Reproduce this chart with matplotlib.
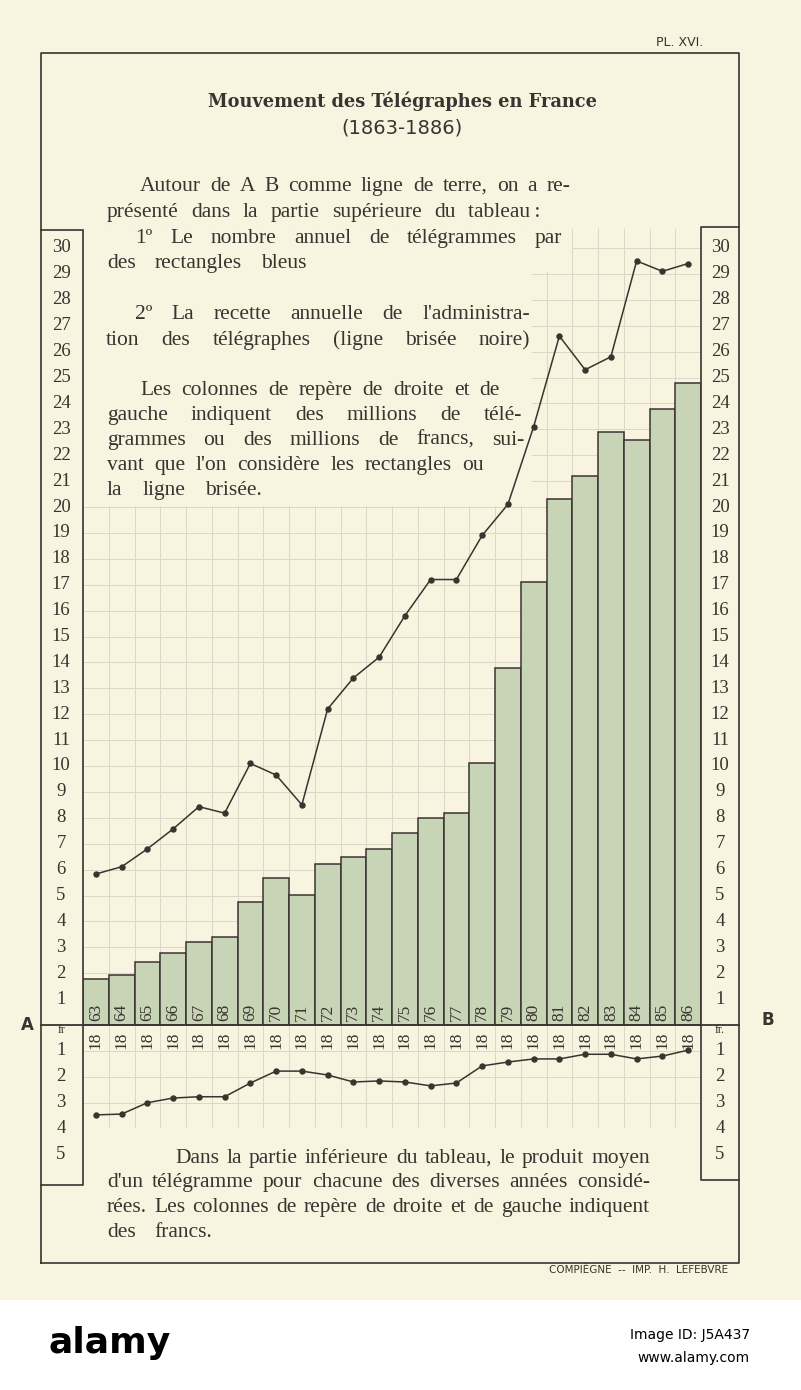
import matplotlib
matplotlib.use("Agg")
import matplotlib.pyplot as plt
import matplotlib.transforms as mtransforms
from matplotlib.patches import Polygon, Rectangle
from matplotlib.lines import Line2D

# --- data (millions / francs) ---
years = list(range(1863, 1887))
telegrammes = [1.78, 1.93, 2.43, 2.79, 3.2, 3.41, 4.75, 5.68, 5.02, 6.2, 6.5, 6.8,
               7.4, 8.0, 8.2, 10.1, 13.8, 17.1, 20.3, 21.2, 22.9, 22.6, 23.8, 24.8]
recette = [5.83, 6.11, 6.8, 7.57, 8.43, 8.18, 10.1, 9.65, 8.5, 12.2, 13.4, 14.2,
           15.8, 17.2, 17.2, 18.9, 20.1, 23.1, 26.6, 25.3, 25.8, 29.5, 29.1, 29.4]
produit_moyen = [3.47, 3.44, 3.0, 2.82, 2.77, 2.77, 2.24, 1.78, 1.78, 1.93, 2.2, 2.16,
                 2.2, 2.35, 2.24, 1.58, 1.43, 1.31, 1.31, 1.13, 1.13, 1.31, 1.2, 0.97]
upper_ticks = list(range(1, 31))
lower_ticks = list(range(1, 6))

PAPER = '#f8f4e0'
GREEN = '#c7d4b5'
INK = '#3a3330'
GRID = '#dad8c8'
SERIF = 'Liberation Serif'

W, H = 801, 1390
fig = plt.figure(figsize=(W / 100, H / 100), dpi=100)
fig.patch.set_facecolor(PAPER)


def fx(px):
    return px / W


def fy(py):
    return 1 - py / H


def fline(xs, ys, lw=1.2):
    fig.add_artist(Line2D([fx(x) for x in xs], [fy(y) for y in ys],
                          color=INK, lw=lw, zorder=5))


# chart area between the two scale columns
X0, X1 = 83, 701
Y_TOP, Y_BOT = 228, 1185
BASE, UNIT = 1025, 25.9
ax = fig.add_axes([fx(X0), fy(Y_BOT), (X1 - X0) / W, (Y_BOT - Y_TOP) / H])
n = len(years)
xs = list(range(n))
ax.set_xlim(-0.5, n - 0.5)
ax.set_ylim((BASE - Y_BOT) / UNIT, (BASE - Y_TOP) / UNIT)
ax.axis('off')
top = ax.get_ylim()[1]

# grid paper
edges = [i - 0.5 for i in range(n + 1)]
ax.vlines(edges, -3.95, top, color=GRID, lw=0.7, zorder=0)
ax.hlines(upper_ticks, -0.5, n - 0.5, color=GRID, lw=0.7, zorder=0)
ax.hlines([-1, -2, -3], -0.5, n - 0.5, color=GRID, lw=0.7, zorder=0)

# blank area behind the explanatory text
blank = Polygon([(fx(84), fy(229)), (fx(572), fy(229)), (fx(572), fy(272)),
                 (fx(532), fy(272)), (fx(532), fy(506)), (fx(84), fy(506))],
                closed=True, transform=fig.transFigure, facecolor=PAPER,
                edgecolor='none', zorder=0.5, clip_on=False)
ax.add_patch(blank)

# telegram counts (rectangles) and receipts (broken line)
ax.bar(xs, telegrammes, width=1.0, color=GREEN, edgecolor=INK, lw=1.1, zorder=2)
ax.plot(xs, recette, '-o', color=INK, lw=1.1, ms=3.6, zorder=3)
# average product per telegram, drawn downwards below A B
ax.plot(xs, [-v for v in produit_moyen], '-o', color=INK, lw=1.1, ms=3.6, zorder=3)

for i, y in enumerate(years):
    s = str(y)
    ax.text(i, 0.5, s[2:], rotation=90, ha='center', va='center', fontsize=12.5,
            family=SERIF, color=INK, zorder=4)
    ax.text(i, -0.6, s[:2], rotation=90, ha='center', va='center', fontsize=12.5,
            family=SERIF, color=INK, zorder=4)

# line A B
trans = mtransforms.blended_transform_factory(fig.transFigure, ax.transData)
ax.plot([fx(41), fx(739)], [0, 0], color=INK, lw=1.3, transform=trans,
        clip_on=False, zorder=5)

# scale columns
for cx in (61, 720):
    for v in upper_ticks:
        ax.text(fx(cx), v, str(v), transform=trans, ha='center', va='center',
                fontsize=13.5, family=SERIF, color=INK)
    for v in lower_ticks:
        ax.text(fx(cx), -v, str(v), transform=trans, ha='center', va='center',
                fontsize=13.5, family=SERIF, color=INK)
ax.text(fx(62), -0.2, 'fr', transform=trans, ha='center', va='center',
        fontsize=8.5, family=SERIF, color=INK)
ax.text(fx(720), -0.2, 'fr.', transform=trans, ha='center', va='center',
        fontsize=8.5, family=SERIF, color=INK)

# frames
fline([41, 41, 739, 739, 41], [1263, 53, 53, 1263, 1263])
fline([41, 83, 83, 41], [230, 230, 1185, 1185])
fline([739, 701, 701, 739], [227, 227, 1180, 1180])

fig.text(fx(27), fy(1025), 'A', ha='center', va='center', fontsize=12,
         weight='bold', family='DejaVu Sans', color=INK)
fig.text(fx(768), fy(1020), 'B', ha='center', va='center', fontsize=12,
         weight='bold', family='DejaVu Sans', color=INK)

# titles
fig.text(fx(402), fy(101), 'Mouvement des Télégraphes en France', ha='center',
         va='center', fontsize=12.8, weight='bold', family='DejaVu Serif', color=INK)
fig.text(fx(402), fy(128), '(1863-1886)', ha='center', va='center', fontsize=14,
         family='DejaVu Sans', color=INK)
fig.text(fx(703), fy(42), 'PL. XVI.', ha='right', va='center', fontsize=9,
         family='DejaVu Sans', color=INK)
fig.text(fx(728), fy(1270), 'COMPIÈGNE  --  IMP.  H.  LEFEBVRE', ha='right',
         va='center', fontsize=7.5, family='DejaVu Sans', color=INK)

renderer = fig.canvas.get_renderer()
SIZE = 15.5


def justify(text, x0, x1, y, size=SIZE):
    # words placed one by one on a common baseline, spread from x0 to x1
    words = text.split(' ')
    arts = [fig.text(0, fy(y + 5), w, fontsize=size, va='baseline', ha='left',
                     family=SERIF, color=INK, zorder=6) for w in words]
    widths = [a.get_window_extent(renderer).width for a in arts]
    gap = (x1 - x0 - sum(widths)) / max(len(words) - 1, 1)
    x = x0
    for a, w in zip(arts, widths):
        a.set_x(fx(x))
        x += w + gap


paragraph = [
    ("Autour de A B comme ligne de terre, on a re-", 140, 570, 186),
    ("présenté dans la partie supérieure du tableau\u2009:", 107, 540, 212),
    ("1º Le nombre annuel de télégrammes par", 135, 562, 238),
    ("des rectangles bleus", 107, 307, 263),
    ("2º La recette annuelle de l'administra-", 135, 530, 314),
    ("tion des télégraphes (ligne brisée noire)", 106, 530, 340),
    ("Les colonnes de repère de droite et de", 140, 500, 390),
    ("gauche indiquent des millions de télé-", 107, 522, 415),
    ("grammes ou des millions de francs, sui-", 107, 524, 440),
    ("vant que l'on considère les rectangles ou", 107, 484, 465),
    ("la ligne brisée.", 107, 262, 490),
    ("Dans la partie inférieure du tableau, le produit moyen", 175, 650, 1158),
    ("d'un télégramme pour chacune des diverses années considé-", 107, 650, 1182),
    ("rées. Les colonnes de repère de droite et de gauche indiquent", 107, 650, 1207),
    ("des francs.", 107, 212, 1232),
]
for text, x0, x1, y in paragraph:
    justify(text, x0, x1, y)

# stock-photo band at the bottom of the scan
fig.add_artist(Rectangle((0, 0), 1, fy(1300), transform=fig.transFigure,
                         facecolor='white', edgecolor='none', zorder=7))
fig.text(fx(48), fy(1343), 'alamy', ha='left', va='center', fontsize=26,
         weight='bold', family='DejaVu Sans', color='black', zorder=8)
fig.text(fx(750), fy(1335), 'Image ID: J5A437', ha='right', va='center',
         fontsize=10, family='DejaVu Sans', color='black', zorder=8)
fig.text(fx(750), fy(1358), 'www.alamy.com', ha='right', va='center',
         fontsize=10, family='DejaVu Sans', color='black', zorder=8)

plt.savefig('out.png', dpi=100, facecolor=fig.get_facecolor())
